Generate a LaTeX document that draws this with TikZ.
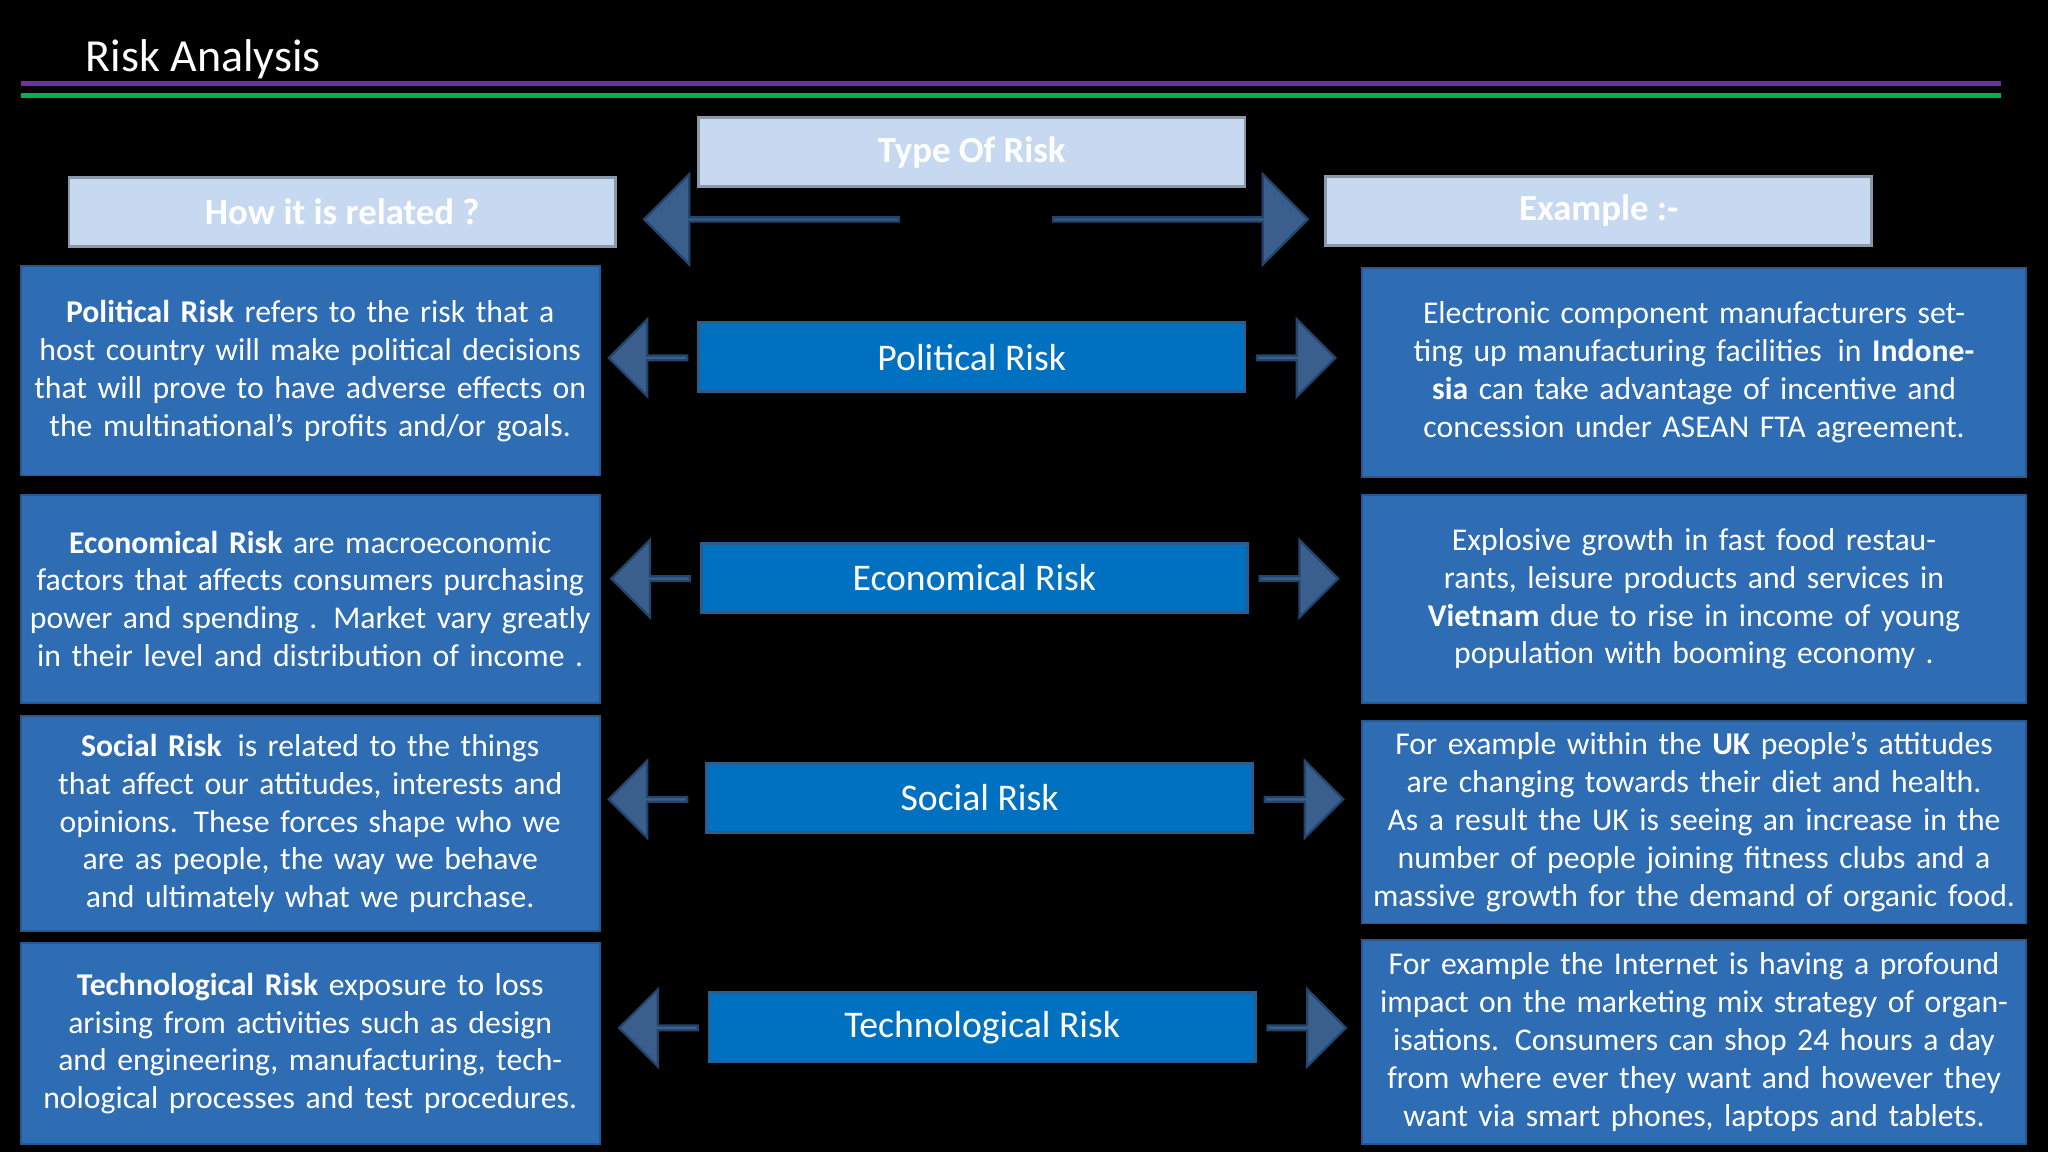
\documentclass[tikz,border=0pt]{standalone}
\usepackage{fontspec}
\setmainfont{Carlito}
\usetikzlibrary{shapes.arrows}
\definecolor{pbox}{HTML}{2E6DB4}
\definecolor{cbox}{HTML}{0070C0}
\definecolor{cbord}{HTML}{2A5C8C}
\definecolor{hbox}{HTML}{C6D9F1}
\definecolor{arr}{HTML}{3A5F8C}
\definecolor{arrb}{HTML}{25446B}
\tikzset{
 x=0.01cm,y=-0.01cm,
 txtbox/.style={fill=pbox,draw=pbox!80!black,line width=0.4pt,text=white,inner sep=0pt,align=center,font=\fontsize{6.9}{8.25}\selectfont},
 ctr/.style={fill=cbox,draw=cbord,line width=0.6pt,text=white,minimum width=4.18cm,minimum height=0.53cm,inner sep=0pt,font=\fontsize{8.2}{9}\selectfont},
 hdr/.style={fill=hbox,draw=hbox!70!black,line width=0.6pt,text=white,minimum width=4.18cm,minimum height=0.53cm,inner sep=0pt,font=\fontsize{8}{9}\selectfont\bfseries},
 sarr/.style={single arrow,fill=arr,draw=arrb,line width=0.5pt,minimum height=0.6cm,minimum width=0.59cm,single arrow head extend=0.135cm,inner sep=0pt},
 barr/.style={single arrow,fill=arr,draw=arrb,line width=0.5pt,minimum height=1.95cm,minimum width=0.69cm,single arrow head extend=0.185cm,inner sep=0pt},
}
\begin{document}
\begin{tikzpicture}
\fill[black] (0,0) rectangle (1568,882);
\useasboundingbox (0,0) rectangle (1568,882);
\node[anchor=base west,text=white,font=\fontsize{10}{12}\selectfont,inner sep=0pt] (title) at (65,55) {Risk Analysis};
\draw[line width=1.1pt,color={rgb,255:red,112;green,48;blue,160}] (16,64) coordinate (p1) -- (1532,64) coordinate (p2);
\draw[line width=1.1pt,color={rgb,255:red,0;green,176;blue,80}] (16,73) coordinate (g1) -- (1532,73) coordinate (g2);
\node[hdr] (type) at (744,116.5) {Type Of Risk};
\node[hdr] (how) at (262,162.5) {How it is related ?};
\node[hdr] (ex) at (1224,161.5) {Example :-};
\node[barr,shape border rotate=180] (bl) at (591.5,168) {};
\node[barr] (br) at (903,168) {};
% left boxes
\node[txtbox,minimum width=4.43cm,minimum height=1.6cm,text width=4.3cm] (l1) at (237.5,284) {\textbf{Political Risk} refers to the risk that a host country will make political decisions that will prove to have adverse effects on the multinational's profits and/or goals.};
\node[txtbox,minimum width=4.43cm,minimum height=1.59cm,text width=4.3cm] (l2) at (237.5,458.5) {\textbf{Economical Risk} are macroeconomic factors that affects consumers purchasing power and spending . Market vary greatly in their level and distribution of income .};
\node[txtbox,minimum width=4.43cm,minimum height=1.65cm,text width=4.3cm] (l3) at (237.5,630.5) {\textbf{Social Risk}\, is related to the things that affect our attitudes, interests and opinions. These forces shape who we are as people, the way we behave and ultimately what we purchase.};
\node[txtbox,minimum width=4.43cm,minimum height=1.54cm,text width=4.3cm] (l4) at (237.5,799) {\textbf{Technological Risk} exposure to loss arising from activities such as design and engineering, manufacturing, technological processes and test procedures.};
% right boxes
\node[txtbox,minimum width=5.08cm,minimum height=1.6cm,text width=4.95cm] (r1) at (1297,285) {Electronic component manufacturers setting up manufacturing facilities\, in \textbf{Indonesia} can take advantage of incentive and concession under ASEAN FTA agreement.};
\node[txtbox,minimum width=5.08cm,minimum height=1.59cm,text width=4.95cm] (r2) at (1297,458.5) {Explosive growth in fast food restaurants, leisure products and services in \textbf{Vietnam} due to rise in income of young population with booming economy .};
\node[txtbox,minimum width=5.08cm,minimum height=1.55cm,text width=4.95cm] (r3) at (1297,629.5) {For example within the \textbf{UK} people's attitudes are changing towards their diet and health. As a result the UK is seeing an increase in the number of people joining fitness clubs and a massive growth for the demand of organic food.};
\node[txtbox,minimum width=5.08cm,minimum height=1.56cm,text width=4.95cm] (r4) at (1297,798) {For example the Internet is having a profound impact on the marketing mix strategy of organisations. Consumers can shop 24 hours a day from where ever they want and however they want via smart phones, laptops and tablets.};
% centre
\node[ctr] (c1) at (744,273.5) {Political Risk};
\node[ctr] (c2) at (746,442.5) {Economical Risk};
\node[ctr] (c3) at (750,611) {Social Risk};
\node[ctr] (c4) at (752,786.5) {Technological Risk};
\node[sarr,shape border rotate=180] (a1l) at (497,274) {};
\node[sarr] (a1r) at (991.5,274) {};
\node[sarr,shape border rotate=180] (a2l) at (499,443) {};
\node[sarr] (a2r) at (993.5,443) {};
\node[sarr,shape border rotate=180] (a3l) at (497,612) {};
\node[sarr] (a3r) at (997.5,612) {};
\node[sarr,shape border rotate=180] (a4l) at (505,787) {};
\node[sarr] (a4r) at (999.5,787) {};
\end{tikzpicture}
\end{document}
